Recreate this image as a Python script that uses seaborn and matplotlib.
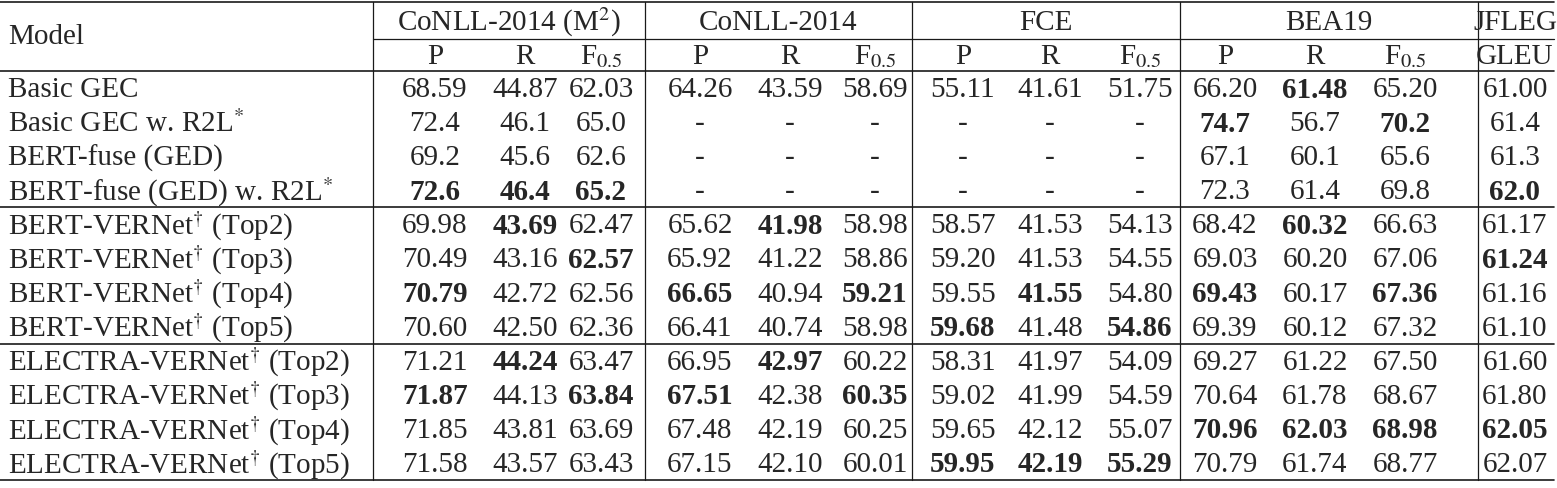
import matplotlib
matplotlib.use("Agg")
import matplotlib.pyplot as plt
import seaborn as sns

models = ["Basic GEC", r"Basic GEC w. R2L$^{*}$", "BERT-fuse (GED)", r"BERT-fuse (GED) w. R2L$^{*}$",
          r"BERT-VERNet$^{\dagger}$ (Top2)", r"BERT-VERNet$^{\dagger}$ (Top3)",
          r"BERT-VERNet$^{\dagger}$ (Top4)", r"BERT-VERNet$^{\dagger}$ (Top5)",
          r"ELECTRA-VERNet$^{\dagger}$ (Top2)", r"ELECTRA-VERNet$^{\dagger}$ (Top3)",
          r"ELECTRA-VERNet$^{\dagger}$ (Top4)", r"ELECTRA-VERNet$^{\dagger}$ (Top5)"]
groups = [r"CoNLL-2014 (M$^2$)", "CoNLL-2014", "FCE", "BEA19", "JFLEG"]
subcols = ["P", "R", r"F$_{0.5}$"] * 4 + ["GLEU"]
values = [
    ["68.59","44.87","62.03","64.26","43.59","58.69","55.11","41.61","51.75","66.20","61.48","65.20","61.00"],
    ["72.4","46.1","65.0","-","-","-","-","-","-","74.7","56.7","70.2","61.4"],
    ["69.2","45.6","62.6","-","-","-","-","-","-","67.1","60.1","65.6","61.3"],
    ["72.6","46.4","65.2","-","-","-","-","-","-","72.3","61.4","69.8","62.0"],
    ["69.98","43.69","62.47","65.62","41.98","58.98","58.57","41.53","54.13","68.42","60.32","66.63","61.17"],
    ["70.49","43.16","62.57","65.92","41.22","58.86","59.20","41.53","54.55","69.03","60.20","67.06","61.24"],
    ["70.79","42.72","62.56","66.65","40.94","59.21","59.55","41.55","54.80","69.43","60.17","67.36","61.16"],
    ["70.60","42.50","62.36","66.41","40.74","58.98","59.68","41.48","54.86","69.39","60.12","67.32","61.10"],
    ["71.21","44.24","63.47","66.95","42.97","60.22","58.31","41.97","54.09","69.27","61.22","67.50","61.60"],
    ["71.87","44.13","63.84","67.51","42.38","60.35","59.02","41.99","54.59","70.64","61.78","68.67","61.80"],
    ["71.85","43.81","63.69","67.48","42.19","60.25","59.65","42.12","55.07","70.96","62.03","68.98","62.05"],
    ["71.58","43.57","63.43","67.15","42.10","60.01","59.95","42.19","55.29","70.79","61.74","68.77","62.07"],
]
bold = [
    [0,0,0,0,0,0,0,0,0,0,1,0,0],
    [0,0,0,0,0,0,0,0,0,1,0,1,0],
    [0,0,0,0,0,0,0,0,0,0,0,0,0],
    [1,1,1,0,0,0,0,0,0,0,0,0,1],
    [0,1,0,0,1,0,0,0,0,0,1,0,0],
    [0,0,1,0,0,0,0,0,0,0,0,0,1],
    [1,0,0,1,0,1,0,1,0,1,0,1,0],
    [0,0,0,0,0,0,1,0,1,0,0,0,0],
    [0,1,0,0,1,0,0,0,0,0,0,0,0],
    [1,0,1,1,0,1,0,0,0,0,0,0,0],
    [0,0,0,0,0,0,0,0,0,1,1,1,1],
    [0,0,0,0,0,0,1,1,1,0,0,0,0],
]

sns.set_theme(style="white")
plt.rcParams["font.family"] = ["Liberation Serif", "DejaVu Serif"]
plt.rcParams["mathtext.fontset"] = "stix"

W, H = 1557, 489
fig = plt.figure(figsize=(W/100, H/100), dpi=100)
ax = fig.add_axes([0, 0, 1, 1])
ax.set_xlim(0, W); ax.set_ylim(H, 0); ax.axis("off")

fs = 21
vlines = [373, 645, 912, 1180, 1478]
col_x = [435, 525, 601, 700, 790, 875, 963, 1050, 1140, 1225, 1315, 1405, 1515]
group_x = [(373+645)/2, (645+912)/2, (912+1180)/2, (1180+1478)/2, (1478+1552)/2]
top, hmid, hbot, bottom = 3, 40, 72, 481
rowh = (bottom - hbot) / 12

ax.plot([0, W-3], [top, top], color="k", lw=1.2)
ax.plot([373, W-3], [hmid, hmid], color="k", lw=0.9)
for yl in [hbot, hbot+4*rowh, hbot+8*rowh, bottom]:
    ax.plot([0, W-3], [yl, yl], color="k", lw=1.2)
for xv in vlines:
    ax.plot([xv, xv], [top, bottom], color="k", lw=0.9)

ax.text(8, (top+hbot)/2, "Model", fontsize=fs, va="center", ha="left")
for g, gx in zip(groups, group_x):
    ax.text(gx, (top+hmid)/2+1, g, fontsize=fs, va="center", ha="center")
for s, cx in zip(subcols, col_x):
    ax.text(cx, (hmid+hbot)/2+1, s, fontsize=fs, va="center", ha="center")

for i, m in enumerate(models):
    y = hbot + (i+0.5)*rowh + 1
    ax.text(8, y, m, fontsize=fs, va="center", ha="left")
    for j, v in enumerate(values[i]):
        ax.text(col_x[j], y, v, fontsize=fs, va="center", ha="center",
                fontweight="bold" if bold[i][j] else "normal")

fig.savefig("out.png", dpi=100, facecolor="white")
